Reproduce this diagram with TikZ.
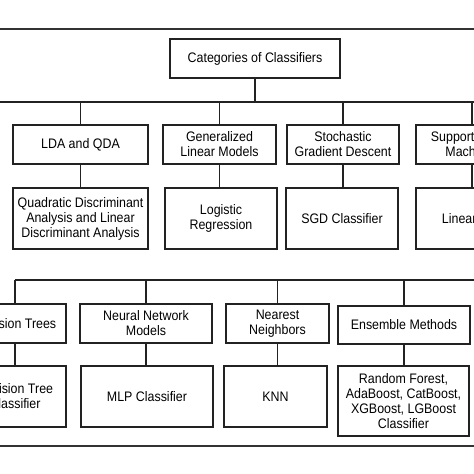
\documentclass[tikz,border=0pt]{standalone}
\usepackage{fontspec}
\setmainfont{Liberation Sans}[FakeStretch=0.9]
\definecolor{edge}{HTML}{222222}
\definecolor{rule}{HTML}{333333}
\begin{document}
\begin{tikzpicture}[x=1pt,y=-1pt,
  box/.style={draw=edge, line width=1.4pt, align=center, inner sep=0pt,
    font=\fontsize{13.8}{15}\selectfont},
  link/.style={draw=edge, line width=1.4pt},
  framerule/.style={draw=rule, line width=2.2pt}]
\useasboundingbox (0,0) rectangle (474,474);
\clip (0,0) rectangle (474,474);
\fill[white] (0,0) rectangle (474,474);
% frame rules
\coordinate (ftl) at (0,29);   \coordinate (ftr) at (474,29);
\coordinate (fbl) at (0,446);  \coordinate (fbr) at (474,446);
\draw[framerule] (ftl) -- (ftr);
\draw[framerule] (fbl) -- (fbr);
% top node
\node[box, minimum width=170pt, minimum height=39pt] (top) at (255,58.5) {Categories of Classifiers};
% row 1
\node[box, minimum width=135pt, minimum height=39pt] (lda) at (80.5,144.5) {LDA and QDA};
\node[box, minimum width=113pt, minimum height=39pt] (glm) at (219.5,144.5) {Generalized\\Linear Models};
\node[box, minimum width=112pt, minimum height=39pt] (sgd) at (343,144.5) {Stochastic\\Gradient Descent};
\node[box, minimum width=112pt, minimum height=39pt] (svm) at (472,144.5) {Support Vector\\Machines};
% row 2
\node[box, minimum width=135pt, minimum height=61pt] (qda) at (80.5,218.5) {Quadratic Discriminant\\Analysis and Linear\\Discriminant Analysis};
\node[box, minimum width=112pt, minimum height=61pt] (logreg) at (221,218.5) {Logistic\\Regression};
\node[box, minimum width=112pt, minimum height=61pt] (sgdc) at (342,218.5) {SGD Classifier};
\node[box, minimum width=112pt, minimum height=61pt] (lsvc) at (472,218.5) {LinearSVC};
% row 3
\node[box, minimum width=102pt, minimum height=39pt] (dt) at (15,323.5) {Decision Trees};
\node[box, minimum width=132pt, minimum height=39pt] (nn) at (146,323.5) {Neural Network\\Models};
\node[box, minimum width=103pt, minimum height=39pt] (nnb) at (277.5,323.5) {Nearest\\Neighbors};
\node[box, minimum width=132pt, minimum height=38pt] (ens) at (404,325) {Ensemble Methods};
% row 4
\node[box, minimum width=102pt, minimum height=61pt] (dtc) at (15,396.5) {Decision Tree\\Classifier};
\node[box, minimum width=132pt, minimum height=61pt] (mlp) at (147,396.5) {MLP Classifier};
\node[box, minimum width=103pt, minimum height=61pt] (knn) at (275.5,396.5) {KNN};
\node[box, minimum width=131pt, minimum height=70pt] (enl) at (403.5,401) {Random Forest,\\AdaBoost, CatBoost,\\XGBoost, LGBoost\\Classifier};
% bus 1
\coordinate (b1l) at (0,102); \coordinate (b1r) at (474,102);
\draw[link] (b1l) -- (b1r);
\draw[link] (top.south) -- (top.south |- b1l);
\foreach \n in {lda,glm,sgd,svm} \draw[link] (\n.north) -- (\n.north |- b1l);
\draw[link] (lda.south) -- (qda.north);
\draw[link] (glm.south) -- (glm.south |- logreg.north);
\draw[link] (sgd.south) -- (sgd.south |- sgdc.north);
\draw[link] (svm.south) -- (lsvc.north);
% bus 2
\coordinate (b2r) at (474,280);
\draw[link] (dt.north |- b2r) -- (b2r);
\foreach \n in {dt,nn,nnb,ens} \draw[link] (\n.north) -- (\n.north |- b2r);
\draw[link] (dt.south) -- (dtc.north);
\draw[link] (nn.south) -- (nn.south |- mlp.north);
\draw[link] (nnb.south) -- (nnb.south |- knn.north);
\draw[link] (ens.south) -- (ens.south |- enl.north);
\end{tikzpicture}
\end{document}
